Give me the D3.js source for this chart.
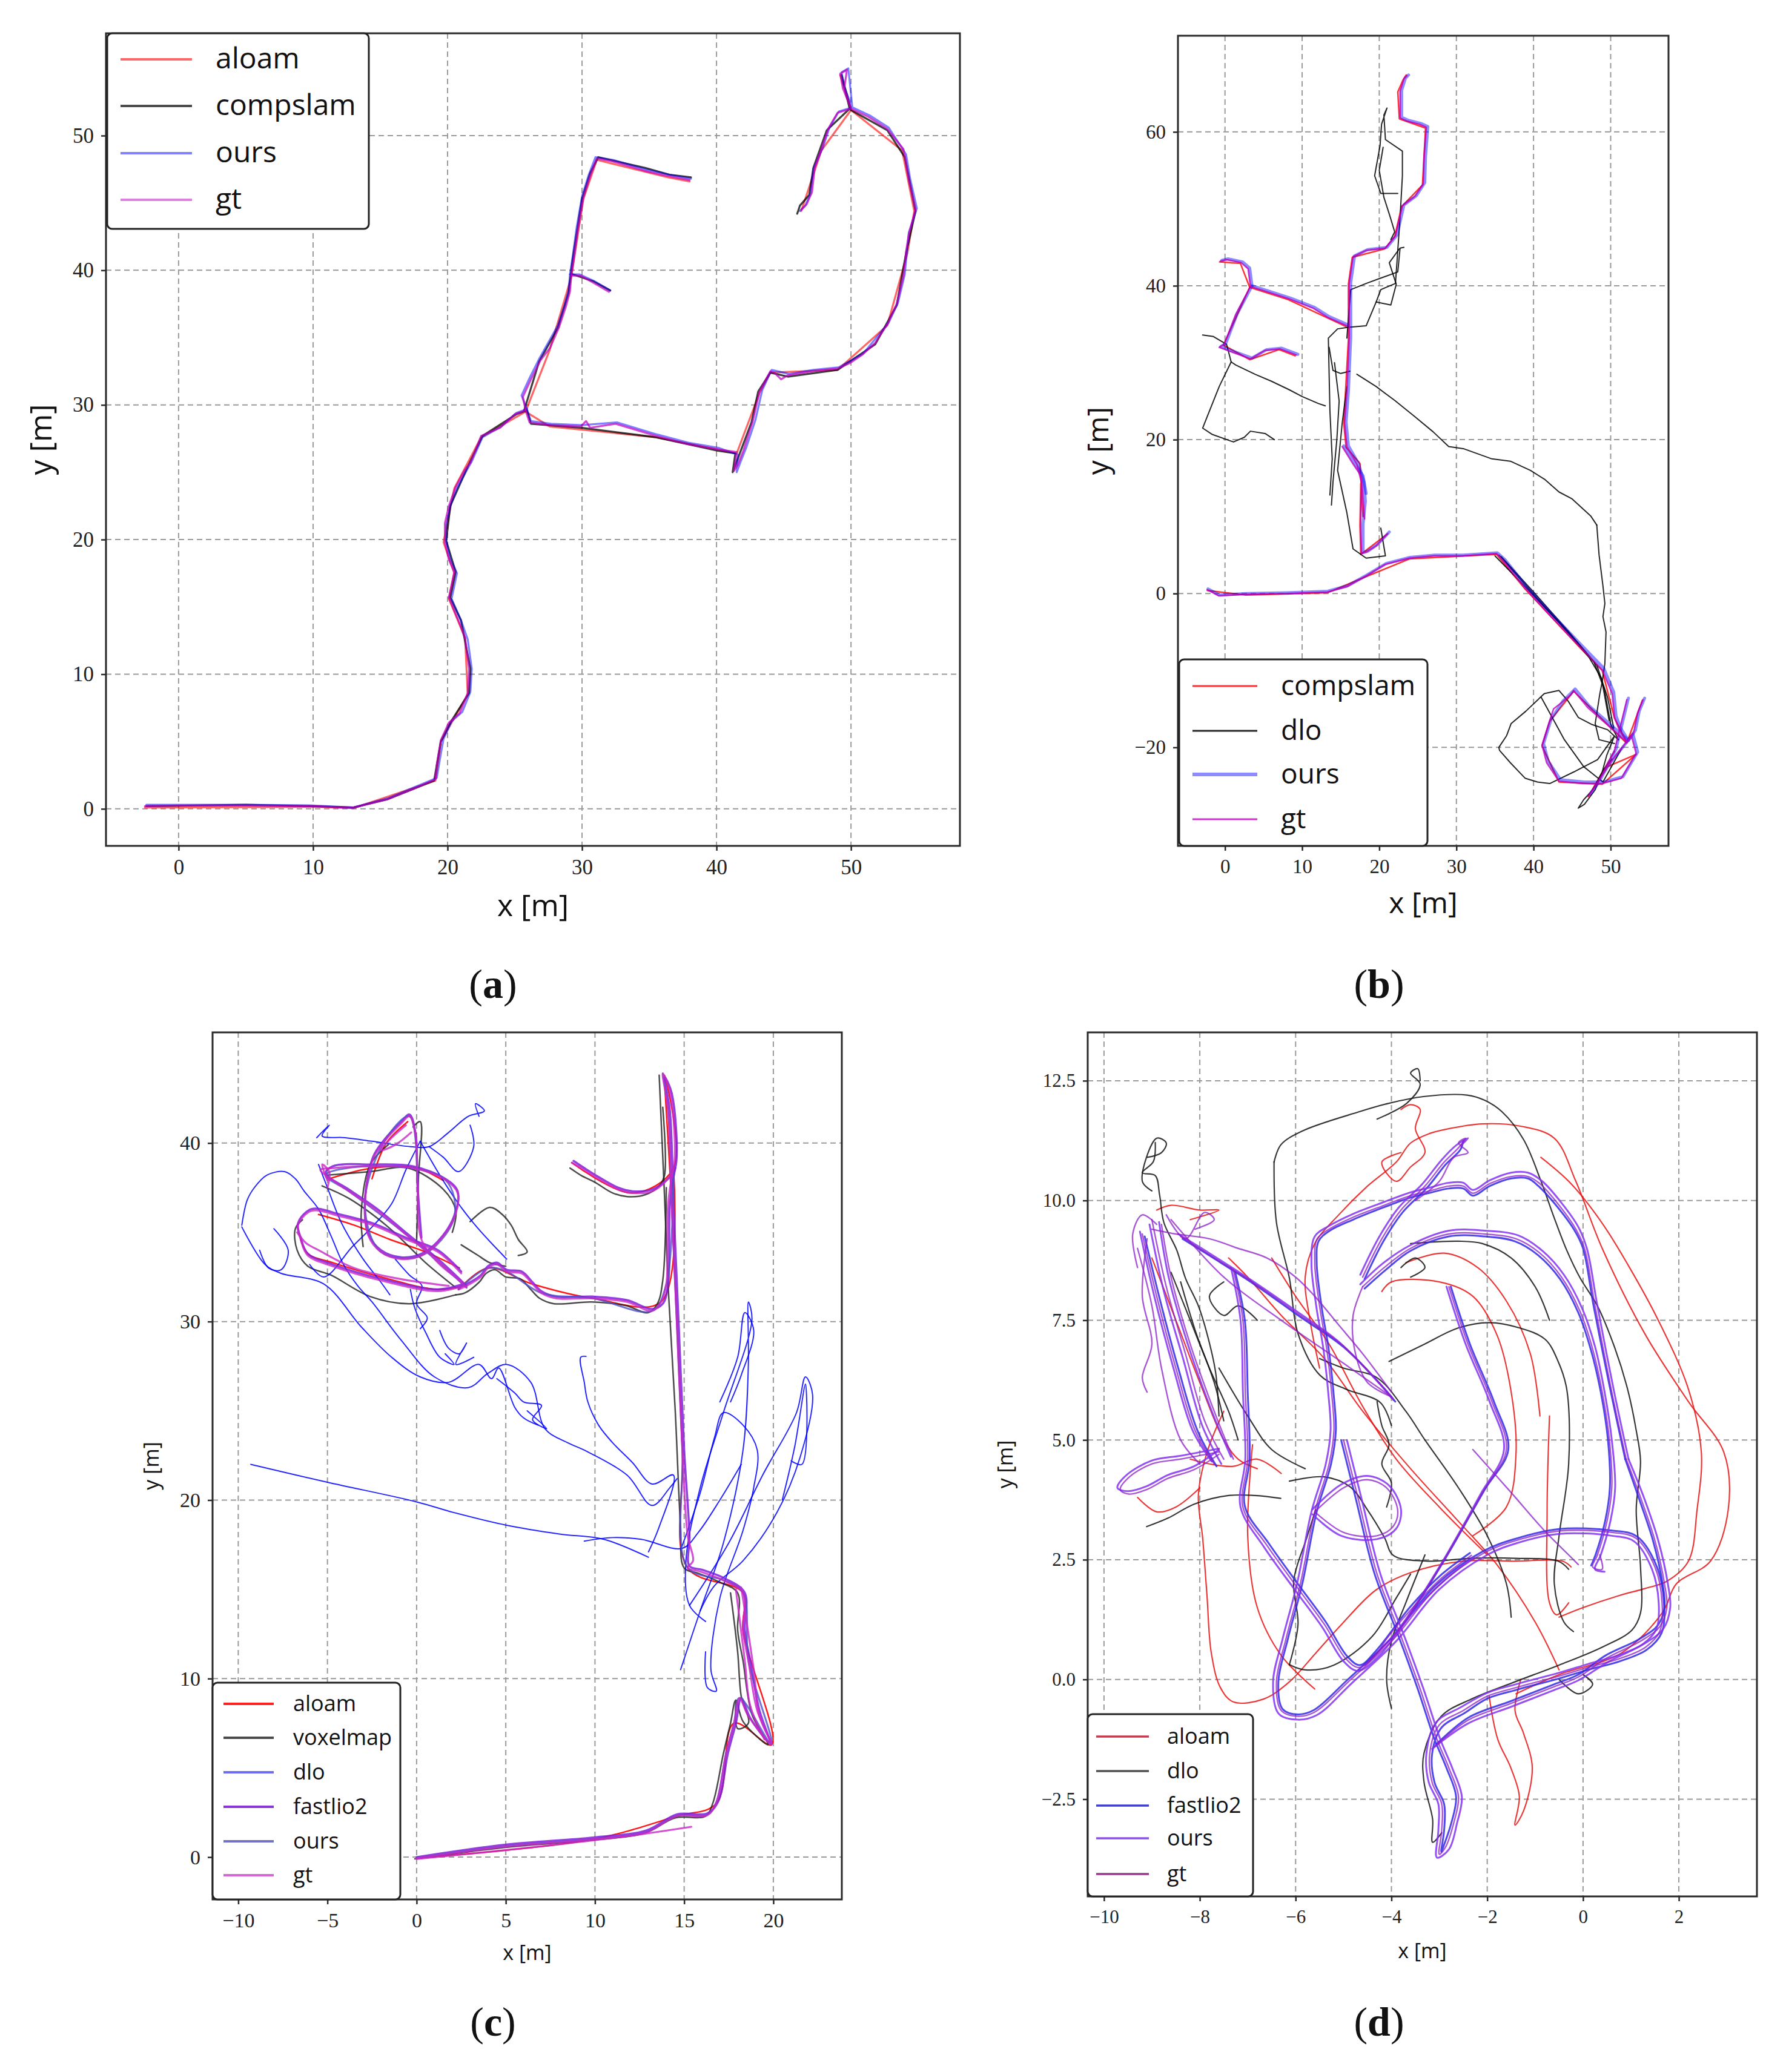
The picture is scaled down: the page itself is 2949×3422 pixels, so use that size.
<!DOCTYPE html>
<html>
<head>
<meta charset="utf-8">
<script src="https://cdn.jsdelivr.net/npm/d3@7"></script>
<style>
  body { margin: 0; background: #fff; }
</style>
</head>
<body>
<svg id="fig" width="2949" height="3422"></svg>
<script>
// ---------- panel (a) ----------
var aXTicks = [0, 10, 20, 30, 40, 50];
var aYTicks = [0, 10, 20, 30, 40, 50];
var aNames = ["aloam", "compslam", "ours", "gt"];

var aGt = [
  [[-2.5,0.2],[0,0.25],[5,0.25],[9.9,0.2],[12.9,0.08],[15.5,0.7],[17.5,1.5],[19.1,2.2],[19.2,3.3],[19.5,5.1],[20.1,6.4],[20.9,7.1],[21.5,8.6],[21.6,10.4],[21.3,12.7],[20.8,14.0],[20.1,15.7],[20.5,17.6],[20.1,18.5],[19.8,19.8],[19.8,21.2],[20.1,22.5],[20.6,23.9],[21.3,25.2],[21.7,25.7],[22.5,27.7],[23.9,28.3],[25.0,29.3],[25.8,29.6],
   [26.1,28.7],[27.6,28.5],[29.9,28.4],[30.3,28.8],[30.6,28.3],[32.5,28.6],[35.5,27.7],[37.8,27.1],[40.1,26.7],[41.5,26.5],[41.3,25.1],[41.6,25.6],[42.0,26.6],[42.7,28.8],[43.2,31.0],[44.0,32.5],[44.3,32.4],[44.8,31.9],[45.3,32.2],[47.1,32.5],[49.0,32.7],[49.9,33.1],[50.8,33.7],[51.8,34.6],[52.7,36.0],[53.4,37.5],[53.9,39.6],[54.1,41.4],[54.3,42.7],[54.8,44.5],[54.3,46.7],[54.0,48.5],[53.9,49.0],[52.7,50.5],[51.3,51.4],[50.0,52.0],[49.4,53.5],[49.2,54.6],[49.7,54.9],[49.5,53.5],[50.0,52.0],[49.0,51.7],[48.3,50.5],[47.8,49.0],[47.3,47.6],[47.1,45.8],[46.7,44.9],[46.3,44.5]],
  [[25.8,29.6],[25.6,30.6],[26.2,31.9],[26.9,33.3],[27.6,34.2],[28.3,35.8],[28.8,37.3],[29.1,38.4],[29.2,39.6],[29.4,40.9],[29.7,43.1],[30.1,45.4],[30.6,47.0],[31.1,48.3],[32.2,48.1],[34.6,47.4],[36.4,47.0],[38.0,46.7]],
  [[29.2,39.6],[29.9,39.6],[30.8,39.1],[32.0,38.4]]
];
var aOurs = [
  [[-2.4,0.3],[0,0.3],[5,0.3],[10,0.25],[13,0.1],[15.6,0.8],[19.2,2.3],[19.4,3.5],[19.7,5.2],[20.3,6.5],[21.1,7.2],[21.7,8.7],[21.8,10.4],[21.5,12.6],[21.0,14.0],[20.3,15.6],[20.7,17.5],[20.2,18.6],[19.9,19.9],[19.9,21.1],[20.2,22.5],[20.7,23.8],[21.4,25.1],[21.8,25.8],[22.6,27.6],[24.0,28.4],[25.1,29.4],[25.9,29.7],
   [26.2,28.8],[27.7,28.6],[30.0,28.5],[32.6,28.7],[35.6,27.8],[37.9,27.2],[40.2,26.8],[41.6,26.3],[41.5,25.0],[41.8,25.8],[42.2,26.8],[42.9,28.9],[43.4,31.1],[44.1,32.6],[45.4,32.3],[47.2,32.6],[49.1,32.8],[50.9,33.8],[52.8,36.1],[53.5,37.6],[54.0,39.7],[54.3,42.8],[54.9,44.6],[54.4,46.8],[54.1,48.6],[52.8,50.6],[51.4,51.5],[50.1,52.1],[49.5,53.6],[49.3,54.7],[49.8,55.0],[50.1,52.1],[49.1,51.8],[48.4,50.6],[47.9,49.1],[47.2,47.5],[47.0,45.7],[46.6,44.8],[46.2,44.4]],
  [[25.9,29.7],[25.5,30.7],[26.1,32.0],[26.8,33.4],[28.2,35.9],[28.7,37.4],[29.0,38.5],[29.1,39.7],[29.3,41.0],[29.6,43.2],[30.0,45.5],[30.5,47.1],[31.0,48.4],[32.3,48.2],[34.7,47.5],[36.5,47.1],[38.1,46.8]],
  [[29.1,39.7],[29.8,39.7],[30.9,39.2],[32.1,38.5]]
];
var aCompslam = [
  [[-2.4,0.2],[5,0.3],[10,0.2],[13,0.1],[15.5,0.7],[19.0,2.1],[19.5,5.0],[20.2,6.4],[21.6,8.6],[21.7,10.4],[21.0,14.0],[20.2,15.7],[20.6,17.6],[19.9,19.9],[20.2,22.5],[21.4,25.2],[22.6,27.7],[25.1,29.3],[25.9,29.6],[26.2,28.6],[30.0,28.3],[35.5,27.6],[40.1,26.6],[41.4,26.4],[41.2,25.0],[42.6,28.7],[43.1,31.0],[44.0,32.4],[45.3,32.1],[49.0,32.6],[51.8,34.5],[53.4,37.4],[54.1,41.3],[54.8,44.4],[54.0,48.4],[52.7,50.4],[50.0,51.9],[49.3,54.5],[49.9,52.0],[48.2,50.4],[47.2,47.6],[46.9,45.6],[46.2,44.8],[46.0,44.2]],
  [[25.7,29.6],[26.8,33.2],[28.2,35.7],[29.0,38.3],[29.3,40.8],[30.0,45.3],[30.6,47.2],[31.2,48.4],[34.7,47.6],[36.5,47.1],[38.1,46.9]],
  [[29.3,39.7],[30.8,39.2],[32.1,38.5]]
];
var aAloam = [
  [[-2.5,0.1],[10,0.15],[13,0.05],[19.1,2.1],[19.5,5.0],[21.5,8.5],[21.3,12.7],[20.1,15.6],[20.5,17.5],[19.7,19.8],[20.5,23.8],[22.5,27.6],[25.8,29.5],[27.6,28.4],[35.5,27.6],[41.5,26.4],[43.2,30.9],[44.0,32.4],[49.0,32.6],[52.7,35.9],[54.2,41.3],[54.7,44.4],[53.8,48.9],[50.0,51.9],[49.2,54.5],[50.0,51.9],[47.8,48.9],[46.3,44.4]],
  [[25.8,29.5],[27.6,34.1],[29.2,39.5],[30.1,45.3],[31.1,48.2],[36.4,46.9],[38.0,46.6]]
];

// ---------- panel (b) ----------
var bXTicks = [0, 10, 20, 30, 40, 50];
var bYTicks = [-20, 0, 20, 40, 60];
var bNames = ["compslam", "dlo", "ours", "gt"];

var bGt = [
  [[-2.3,0.5],[-0.8,-0.3],[2.7,-0.1],[8,0],[13.3,0.2],[15.8,0.9],[18.3,2.3],[20.8,3.8],[23.9,4.6],[27.1,4.9],[30.8,4.9],[35.2,5.2],[36.1,4.2],[38.9,0.7],[42.1,-2.8],[45.8,-6.7],[48.9,-9.9],[50.2,-13.0],[50.5,-16.1],[51.1,-17.7],[52.1,-19.3],[53.0,-18.0],[53.5,-15.5],[54.2,-13.8]],
  [[52.1,-19.3],[49.5,-17.0],[47.0,-14.8],[45.2,-12.6],[44.8,-13.2],[43.6,-14.2],[42.6,-15.0],[42.1,-16.5],[41.1,-19.7],[41.7,-22.0],[43.3,-24.4],[46.4,-24.7],[48.9,-24.7],[51.4,-24.0],[53.3,-20.8],[52.7,-18.5],[49.6,-22.4],[47.7,-25.5],[47.1,-26.3],[48.3,-24.7],[50.5,-20.4],[52.1,-13.8]],
  [[21.1,7.8],[19.6,6.2],[18.3,5.4],[17.7,5.2],[17.6,8.9],[17.7,14.4],[17.1,16.8],[15.8,19.1],[15.5,22.2],[15.8,26.2],[16.1,33.2],[16.1,40.3],[16.6,43.8],[18.3,44.6],[20.8,44.9],[22.1,46.5],[23.0,50.4],[24.6,51.6],[25.7,53.2],[25.8,56.7],[26.1,60.6],[25.2,61.0],[23.6,61.4],[22.7,61.8],[22.7,65.3],[23.2,66.9],[23.6,67.3]],
  [[15.8,34.8],[13.3,35.9],[11.4,37.1],[8.3,38.3],[5.8,39.1],[3.3,39.9],[3.0,42.2],[2.1,43.0],[0.2,43.4],[-0.6,43.2]],
  [[3.3,39.9],[1.4,36.3],[-0.1,32.4],[-0.75,32.0],[1.4,31.2],[3.3,30.5],[5.2,31.6],[7.1,31.8],[9.25,31.0]],
  [[15.2,19.1],[16.5,17.0],[17.7,15.2],[18.1,9.7]]
];
var bOurs = [
  [[-2.2,0.6],[-0.7,-0.2],[2.7,0.0],[8,0.1],[13.3,0.3],[15.9,1.0],[18.4,2.4],[20.9,3.9],[24.0,4.7],[27.2,5.0],[30.9,5.0],[35.3,5.3],[36.3,4.4],[39.1,0.9],[42.3,-2.6],[46.0,-6.5],[49.1,-9.7],[50.4,-12.8],[50.7,-15.9],[51.3,-17.5],[52.3,-19.1],[53.2,-17.8],[53.7,-15.3],[54.4,-13.6]],
  [[52.3,-19.1],[49.7,-16.8],[47.2,-14.6],[45.4,-12.4],[43.8,-14.0],[42.3,-16.3],[41.3,-19.5],[41.9,-21.8],[43.5,-24.2],[46.6,-24.5],[49.1,-24.5],[51.6,-23.8],[53.5,-20.6],[52.9,-18.3],[49.8,-22.2],[47.9,-25.3],[47.3,-26.1],[48.5,-24.5],[50.7,-20.2],[52.3,-13.6]],
  [[21.3,8.0],[19.8,6.4],[18.5,5.5],[17.9,5.3],[17.9,9.0],[18.2,12.0],[18.0,14.5],[17.3,16.9],[16.0,19.2],[15.7,22.3],[16.0,26.3],[16.3,33.3],[16.3,40.4],[16.8,43.9],[18.5,44.7],[21.0,45.0],[22.3,46.6],[23.2,50.5],[24.8,51.7],[25.9,53.4],[26.0,56.8],[26.3,60.7],[25.4,61.1],[23.8,61.5],[22.9,61.9],[22.9,65.4],[23.4,67.0],[23.8,67.4]],
  [[16.0,34.9],[13.5,36.0],[11.6,37.2],[8.5,38.4],[6.0,39.2],[3.5,40.0],[3.2,42.3],[2.3,43.1],[0.4,43.5],[-0.4,43.3]],
  [[3.5,40.0],[1.6,36.4],[0.1,32.5],[-0.55,32.1],[1.6,31.3],[3.5,30.6],[5.4,31.7],[7.3,31.9],[9.45,31.1]],
  [[15.4,19.2],[16.7,17.1],[17.9,15.3],[18.3,13.0]]
];
var bCompslam = [
  [[-2.3,0.4],[2.7,-0.2],[13.3,0.1],[18.3,2.2],[23.9,4.5],[35.2,5.1],[38.9,0.6],[45.8,-6.8],[48.9,-10.0],[50.5,-16.2],[52.1,-19.4],[54.1,-13.9]],
  [[52.0,-19.4],[45.2,-12.7],[42.1,-16.6],[41.1,-19.8],[43.3,-24.5],[48.9,-24.8],[53.3,-20.9],[49.6,-22.5],[47.1,-26.4],[50.5,-20.5]],
  [[21.0,7.7],[17.6,5.1],[17.5,8.8],[17.6,14.3],[17.9,10.0],[17.5,16.9],[15.7,19.0],[15.4,22.1],[16.0,33.1],[16.0,40.2],[16.5,43.7],[20.7,44.8],[22.0,46.4],[22.9,50.3],[25.6,53.1],[26.0,60.5],[22.6,61.7],[22.4,65.2],[23.1,66.8],[23.5,67.4]],
  [[15.7,34.7],[8.2,38.2],[3.2,39.8],[2.0,42.9],[-0.7,43.1]],
  [[3.2,39.8],[-0.2,32.3],[3.2,30.4],[7.0,31.7],[9.1,30.9]]
];
var bDlo = [
  [[35.5,5.0],[39.5,0.5],[44.0,-4.5],[47.8,-8.8],[49.2,-12.5],[50.0,-17.0],[51.0,-19.0]],
  [[35.0,4.9],[39.0,0.8],[43.5,-4.0],[47.2,-8.3],[48.8,-11.0],[49.8,-16.5]],
  [[35.8,4.8],[40.0,0.2],[44.5,-4.9],[48.2,-9.3],[49.6,-13.5],[50.4,-17.5]],
  [[48.2,8.9],[48.5,5.0],[49.0,1.0],[49.25,-1.3],[49.0,-3.0],[49.4,-5.0],[49.25,-9.1],[48.9,-11.5],[48.6,-13.0],[48.0,-16.9],[48.5,-19.0],[50.5,-19.5]],
  [[17.1,28.5],[19.6,26.9],[22.0,25.1],[24.6,23.0],[27.0,21.0],[29.0,19.1],[31.0,18.8],[34.6,17.5],[37.0,17.2],[39.6,16.0],[41.5,14.8],[43.3,13.2],[45.0,12.3],[47.4,10.1],[48.2,8.9]],
  [[51.0,-19.0],[49.6,-17.7],[47.5,-17.0],[45.8,-16.1],[44.5,-14.0],[43.3,-12.6],[41.4,-13.0],[39.0,-15.3],[37.1,-16.9],[36.5,-18.5],[35.5,-20.0],[35.6,-20.4],[37.0,-22.0],[38.9,-24.0],[40.5,-24.5],[42.1,-24.7],[45.2,-23.2],[48.3,-21.6],[50.5,-18.5],[49.5,-21.0],[48.9,-23.2],[47.7,-25.5],[46.5,-26.8],[45.8,-27.9],[46.6,-27.4],[48.0,-25.5],[49.0,-23.0],[50.2,-21.5]],
  [[-2.9,33.6],[-1.5,33.4],[0.2,32.4],[0.8,30.1],[1.4,29.7],[3.9,28.5],[6.0,27.6],[8.3,26.5],[10.0,25.6],[12.1,24.7],[13.0,24.4]],
  [[0.8,30.1],[-0.75,26.9],[-2.3,23.0],[-2.9,21.5],[-1.7,20.7],[1.1,19.7],[2.5,20.3],[3.3,21.1],[5.2,20.8],[6.4,20.0]],
  [[13.6,12.8],[13.9,17.5],[13.6,23.8],[13.4,33.2],[14.6,34.4],[16.0,34.6],[18.3,34.8],[19.6,37.9],[20.2,39.5],[22.1,40.3],[22.4,44.6],[22.7,48.9],[23.0,54.3],[23.0,57.5],[20.8,59.0],[20.6,62.2],[21.0,63.1],[20.3,61.0],[20.1,58.2],[19.4,54.3],[20.2,52.0],[22.4,52.0]],
  [[15.8,26.9],[15.2,22.2],[14.6,16.0],[15.8,10.5],[16.6,5.8],[18.3,4.6],[20.8,4.9],[20.2,8.5]],
  [[15.8,33.2],[16.3,39.5],[18.3,40.3],[20.2,41.0],[22.4,41.8],[22.7,44.9],[23.2,45.0]],
  [[14.2,30.0],[14.8,25.0],[14.5,20.0],[14.0,14.5],[13.8,11.5]],
  [[13.5,32.0],[14.0,29.0],[15.0,28.6],[16.2,28.9]],
  [[19.6,37.9],[21.5,37.5],[22.2,40.2],[21.3,43.0],[22.6,44.8]],
  [[20.5,58.0],[20.0,55.0],[20.6,51.5],[21.4,49.0],[22.0,47.0],[21.5,46.0]],
  [[41.0,-13.5],[44.0,-19.0],[46.5,-22.5],[49.0,-24.5],[51.5,-20.0]]
];

// ---------- panel (c) ----------
var cXTicks = [-10, -5, 0, 5, 10, 15, 20];
var cYTicks = [0, 10, 20, 30, 40];
var cNames = ["aloam", "voxelmap", "dlo", "fastlio2", "ours", "gt"];

var cGt = [
  [[0,-0.07],[5.05,0.6],[9.9,1.0],[12.9,1.4],[14.6,2.3],[16.3,2.35],[16.8,3.05],[17.35,5.8],[17.8,7.5],[18.1,8.9],[18.6,7.9],[19.9,6.3],[19.1,8.2],[18.6,11.0],[18.3,12.7],[18.3,14.8],[17.2,15.5],[15.9,16.0],[15.2,16.2],[15.5,16.6],[15.2,18.0],[14.9,22.8],[14.6,29.7],[14.3,36.6],[14.1,41.8],[13.8,43.9],[14.2,42.9],[14.4,38.6],[14.0,37.9],[13.2,37.3],[12.1,37.2],[11.3,37.4],[10.2,38.0],[9.4,38.5],[8.7,38.9]],
  [[0,-0.1],[6,0.5],[12,1.2],[15.4,1.7]],
  [[17.9,15.0],[18.4,11.0],[18.7,8.5],[19.5,6.6]],
  [[18.2,15.1],[18.9,10.5],[19.2,8.0],[19.9,6.4]],
  [[14.4,38.6],[14.1,36.6],[14.0,32.1],[13.7,31.1],[13.2,30.6],[11.8,31.1],[9.9,31.3],[7.8,31.3],[7.0,31.6],[6.5,32.1],[5.9,32.7],[5.05,32.8],[4.5,33.2],[4.0,33.0],[3.6,32.5],[2.8,32.0],[2.35,31.8]],
  [[2.8,31.9],[1.2,33.4],[-0.5,34.8],[-2.2,36.2],[-3.8,37.3],[-5.1,38.2],[-5.4,38.5],[-4.7,38.6],[-2.45,38.7],[-0.2,38.6],[1.6,37.95],[2.3,37.2],[2.1,35.8],[1.2,34.45],[0.27,33.7],[-0.86,33.5],[-2.0,33.9],[-2.7,34.8],[-2.9,36.6],[-2.45,39.1],[-1.8,40.1],[-0.86,41.1],[-0.4,41.5],[-0.07,40.5],[0.05,37.6],[0.27,34.6],[1.2,33.3],[2.6,32.2]],
  [[2.6,32.0],[1.2,31.7],[-2.0,32.3],[-4.7,33.1],[-6.1,33.7],[-6.5,34.6],[-6.65,35.4],[-5.9,36.2],[-4.3,35.9],[-2.45,35.4],[-0.6,34.6],[1.2,33.9],[2.5,32.7]],
  [[-5.0,37.5],[-4.9,38.4],[-5.3,38.8],[-5.0,37.9]],
  [[-0.6,41.0],[-1.5,40.2],[-2.0,39.6],[-1.2,39.9],[-0.3,40.6]],
  [[-6.7,35.0],[-6.2,34.4],[-5.5,34.0],[-3.5,33.0],[-1.0,32.4],[1.8,32.0]]
];
var cFastlio2 = [
  [[0,0.0],[5.0,0.7],[9.9,1.1],[12.9,1.5],[14.6,2.4],[16.3,2.45],[16.9,3.1],[17.45,5.8],[17.9,7.5],[18.2,8.9],[18.7,7.8],[19.8,6.4],[19.2,8.3],[18.7,11.0],[18.4,12.7],[18.4,14.8],[17.3,15.6],[16.0,16.1],[15.3,16.3],[15.3,18.0],[15.0,22.8],[14.7,29.7],[14.4,36.6],[14.2,41.8],[13.9,43.7],[14.3,42.8],[14.5,38.6],[14.1,38.0],[13.2,37.4],[12.1,37.3],[11.3,37.5],[10.2,38.1],[9.4,38.6],[8.8,39.0]],
  [[14.5,38.6],[14.2,36.6],[14.1,32.1],[13.8,31.0],[13.2,30.7],[11.8,31.2],[9.9,31.4],[7.8,31.4],[7.0,31.7],[6.5,32.2],[5.9,32.8],[5.05,32.9],[4.5,33.3],[4.0,33.1],[3.6,32.6],[2.8,32.1],[2.3,31.9]],
  [[2.8,32.0],[1.2,33.5],[-0.5,34.9],[-2.2,36.3],[-3.8,37.4],[-5.1,38.3],[-4.7,38.7],[-2.45,38.8],[-0.2,38.7],[1.6,38.0],[2.3,37.3],[2.1,35.9],[1.2,34.5],[0.27,33.8],[-0.86,33.6],[-2.0,34.0],[-2.7,34.9],[-2.9,36.7],[-2.45,39.2],[-1.8,40.2],[-0.86,41.2],[-0.4,41.6],[-0.07,40.6],[0.05,37.7],[0.27,34.7]],
  [[2.6,32.1],[1.2,31.8],[-2.0,32.4],[-4.7,33.2],[-6.1,33.8],[-6.5,34.7],[-6.65,35.5],[-5.9,36.3],[-4.3,36.0],[-2.45,35.5],[-0.6,34.7],[1.2,34.0],[2.5,32.8]]
];
var cOurs = [
  [[0,-0.05],[5.05,0.62],[9.9,1.02],[12.9,1.42],[14.6,2.32],[16.3,2.37],[16.8,3.07],[17.35,5.82],[17.8,7.52],[18.1,8.92],[19.9,6.32],[18.6,11.02],[18.3,14.82],[17.2,15.52],[15.2,16.22],[14.9,22.82],[14.6,29.72],[14.3,36.62],[14.1,41.82],[13.8,43.9]],
  [[14.4,38.6],[14.0,32.1],[13.2,30.6],[9.9,31.3],[7.0,31.6],[5.05,32.8],[4.0,33.0],[2.35,31.8]],
  [[2.8,31.9],[-0.5,34.8],[-3.8,37.3],[-5.1,38.2],[-2.45,38.7],[1.6,37.95],[2.1,35.8],[0.27,33.7],[-2.0,33.9],[-2.9,36.6],[-1.8,40.1],[-0.4,41.5],[0.05,37.6]]
];
var cVoxelmap = [
  [[-0.1,-0.1],[5,0.55],[9.8,0.95],[12.8,1.35],[14.5,2.2],[16.2,2.3],[16.6,3.0],[17.2,5.8],[17.6,7.5],[17.9,8.8],[18.3,7.6],[19.7,6.3],[18.8,8.0],[18.3,11.0],[18.0,12.7],[18.0,14.8],[17.0,15.4],[15.8,15.9],[15.0,16.2],[14.8,18.5],[14.5,25],[14.1,32],[13.9,37],[13.7,41.5],[13.6,43.8]],
  [[17.6,14.8],[18.0,11.5],[18.2,9.0],[18.6,7.5],[18.0,7.2],[17.9,8.7]],
  [[13.8,42.0],[13.9,38.2],[13.6,37.6],[12.8,37.1],[11.8,37.0],[11.0,37.2],[10.0,37.8],[9.2,38.2],[8.6,38.6]],
  [[14.0,37.5],[13.8,32.3],[13.5,31.0],[13.0,30.5],[11.7,30.9],[9.8,31.1],[7.7,31.0],[6.9,31.3],[6.4,31.8],[5.8,32.4],[5.0,32.5],[4.4,32.9],[3.9,32.7],[3.5,32.2],[2.7,31.6],[2.2,31.5]],
  [[2.5,34.3],[3.45,33.7],[4.1,33.3],[5.0,33.1]],
  [[3.0,35.6],[4.1,36.4],[4.8,36.0],[5.3,35.4],[5.7,34.6],[6.2,33.9],[5.7,33.7]],
  [[2.2,31.5],[-0.4,31.0],[-2.6,31.4],[-4.8,32.6],[-6.1,33.1],[-6.7,34.0],[-6.8,35.2],[-6.4,35.7]],
  [[2.2,31.9],[0.5,33.3],[-1.6,35.3],[-3.8,36.9],[-5.3,37.6]],
  [[-5.0,38.2],[-2.6,38.4],[-0.5,38.6],[1.5,37.4],[2.2,36.2],[2.0,35.0]],
  [[0.0,34.5],[0.1,38.0],[0.2,41.2],[-0.2,40.9]],
  [[-3.0,34.2],[-3.1,36.2],[-2.6,38.8],[-1.6,39.9]]
];
var cAloam = [
  [[0,-0.05],[9.9,1.0],[14.6,2.3],[16.8,3.0],[17.8,7.5],[19.9,6.3],[18.3,12.7],[18.3,14.8],[15.2,16.2],[14.9,22.8],[14.3,36.6],[13.9,43.8],[14.4,38.6],[12.1,37.2],[8.7,38.9]],
  [[14.4,38.6],[13.7,31.1],[9.9,31.3],[6.5,32.1],[4.0,33.0],[2.35,31.8]],
  [[2.6,32.0],[1.2,31.8],[-2.0,32.5],[-4.7,33.3],[-6.1,33.8],[-6.5,34.6]],
  [[2.4,33.0],[0.5,33.9],[-1.5,34.6],[-3.5,35.4],[-5.5,36.0]],
  [[-4.9,38.0],[-2.45,38.6],[0.0,38.6],[1.5,37.9]],
  [[-0.5,41.2],[-1.7,40.0],[-2.5,38.0]]
];
var cDlo = [
  [[-9.3,22.0],[-5,21.0],[0,19.9],[2.1,19.3],[5,18.6],[8,18.1],[10.5,17.8],[13.0,16.8]],
  [[9.4,17.7],[11,17.9],[12.6,17.8],[14.9,17.3],[15.8,18.2],[17.0,20.0],[18.2,22.0]],
  [[13.0,17.1],[13.6,18.5],[14.4,21.4],[13.2,20.9],[12.1,22.1],[11.0,23.2],[10.2,24.2],[9.6,25.5],[9.4,26.6],[9.2,28.0],[9.5,28.05]],
  [[-9.8,35.4],[-9.5,36.8],[-9.1,37.5],[-8.4,38.2],[-7.4,38.4],[-6.8,38.0],[-6.3,37.3],[-5.5,36.3],[-4.8,34.8],[-4.1,33.2],[-3.3,32.0],[-2.5,31.1],[-0.9,29.0],[1.0,26.9],[2.9,26.3],[4.0,27.1],[5.05,27.6],[6.4,26.6],[7.2,24.0],[8.5,23.2],[9.4,22.8],[11.8,21.4],[13.2,19.7],[14.2,20.7],[14.6,21.2]],
  [[-9.8,35.3],[-8.5,33.2],[-7.6,32.7],[-5.2,32.1],[-3.1,29.7],[-1.4,28.0],[0.2,26.9],[1.8,26.6],[3.5,27.6],[4.2,26.8],[4.6,27.4],[5.5,25.2],[6.0,24.6],[6.8,24.2]],
  [[-5.6,40.3],[-4.9,41.0],[-5.3,40.4],[-4.0,40.3],[-2.5,40.1],[-0.35,39.8],[0.7,39.8],[1.8,40.6],[2.9,41.5],[3.8,41.8],[3.3,42.2],[3.5,41.5]],
  [[0.7,39.8],[1.5,39.2],[2.35,38.4],[3.2,39.8],[3.0,41.0]],
  [[-0.35,31.8],[-0.1,30.75],[0.5,29.4],[1.3,28.0],[2.1,27.6],[1.6,28.2]],
  [[0.2,40.1],[-0.6,38.5],[-1.4,36.6],[-2.5,35.3],[-3.6,34.2],[-5.2,32.5],[-6.0,33.2]],
  [[0.2,40.1],[1.3,38.2],[2.35,36.6],[3.2,35.5],[4.0,34.6],[5.05,33.5]],
  [[-5.5,38.8],[-5.0,37.5],[-4.2,35.5],[-3.0,33.5],[-2.0,32.2],[-1.5,31.5]],
  [[14.8,10.5],[15.9,13.8],[17.2,17.6],[18.3,22.8],[18.6,27.6],[18.6,31.1],[18.8,30.1],[17.2,24.9],[15.9,20.7],[15.1,16.6],[15.3,14.1],[16.2,13.2]],
  [[15.3,14.1],[17.5,17.6],[19.4,21.4],[21.3,24.9],[21.8,26.9],[22.2,25.9],[21.5,22.4],[20.2,19.3],[18.3,16.6],[16.7,15.2],[15.9,13.8]],
  [[14.8,17.2],[15.9,20.4],[16.7,23.5],[17.2,24.9],[18.3,24.2],[19.1,22.8],[18.9,20.7],[18.3,18.3],[17.0,14.5],[16.5,10.5],[16.8,9.3],[16.3,9.5],[16.2,11.5]],
  [[17.0,25.5],[18.0,28.0],[18.4,30.5],[18.9,29.5],[18.2,27.0],[17.6,25.5]],
  [[20.5,20.0],[21.2,23.0],[21.8,26.5],[21.6,22.0],[21.0,22.2]],
  [[1.3,29.5],[1.8,28.5],[2.4,28.2],[2.8,28.8],[2.2,27.6],[3.2,28.0]],
  [[4.5,26.8],[5.5,26.0],[6.0,25.5],[7.0,25.3],[6.5,24.5],[7.3,24.0],[6.2,25.0]],
  [[-1.2,33.5],[-0.4,32.6],[0.3,32.0],[0.0,31.0],[0.6,30.2],[0.2,29.6]],
  [[-8.8,34.0],[-8.3,33.0],[-7.6,32.9],[-7.2,34.0],[-8.0,35.2]]
];

// ---------- panel (d) ----------
var dXTicks = [-10, -8, -6, -4, -2, 0, 2];
var dYTicks = [-2.5, 0, 2.5, 5, 7.5, 10, 12.5];
var dNames = ["aloam", "dlo", "fastlio2", "ours", "gt"];

var dGt = [
  [[0.9,4.6],[0.6,6.0],[0.25,7.8],[0.03,9.0],[-0.15,9.4],[-0.5,9.9],[-0.9,10.35],[-1.15,10.5],[-1.5,10.5],[-1.95,10.35],[-2.3,10.15],[-2.5,10.3],[-2.8,10.3],[-3.2,10.2],[-3.6,10.1],[-4.15,9.9],[-4.8,9.65],[-5.3,9.4],[-5.55,9.2],[-5.6,8.7],[-5.5,7.8],[-5.35,6.9],[-5.25,6.0],[-5.2,5.2],[-5.3,4.5],[-5.6,3.5],[-5.9,2.0],[-6.2,0.85],[-6.4,-0.05],[-6.3,-0.65],[-5.95,-0.77],[-5.6,-0.68],[-4.9,-0.05],[-3.95,0.85],[-3.05,1.93],[-2.05,2.65],[-1.4,2.9],[-0.5,3.1],[0.6,3.07],[1.1,2.95],[1.5,2.35],[1.65,1.6],[1.6,1.0],[1.3,0.67],[0.75,0.43],[0.1,0.25],[-0.5,0.07],[-1.4,-0.17],[-2.0,-0.35],[-2.5,-0.65],[-3.0,-0.95],[-3.2,-1.55],[-3.15,-2.15],[-2.95,-2.6],[-2.95,-3.15],[-3.0,-3.65],[-2.87,-3.5],[-2.7,-3.0],[-2.6,-2.45],[-2.8,-1.85],[-3.05,-1.25],[-3.4,-0.2],[-3.8,0.9],[-4.3,2.2],[-4.7,3.8],[-5.0,5.0]],
  [[0.9,4.6],[1.2,3.8],[1.5,2.9],[1.7,2.0],[1.75,1.5],[1.6,1.1],[1.2,0.8],[0.5,0.45],[-0.1,0.05],[-0.6,-0.15],[-1.5,-0.5],[-2.4,-0.85],[-3.1,-1.4]],
  [[-4.6,8.2],[-4.15,8.6],[-3.6,9.0],[-2.8,9.3],[-2.05,9.3],[-1.4,9.2],[-0.9,8.9],[-0.45,8.4],[-0.07,7.7],[0.2,6.9],[0.4,6.0],[0.55,5.0],[0.6,4.0],[0.5,3.3],[0.3,2.6],[0.2,2.35],[0.4,2.3],[0.35,2.6]],
  [[-4.6,8.2],[-4.8,7.6],[-4.75,6.8],[-4.5,6.2],[-4.0,5.9]],
  [[-8.4,9.25],[-7.76,8.84],[-6.85,8.26],[-5.95,7.63],[-5.04,6.99],[-4.14,6.06],[-3.96,5.83]],
  [[-8.6,9.6],[-7.5,8.4],[-6.3,7.5],[-5.0,6.6],[-4.0,5.9]],
  [[-7.3,8.55],[-7.1,7.5],[-7.05,6.0],[-7.0,4.6],[-7.1,3.6],[-6.6,2.8],[-5.95,1.9],[-5.4,1.15],[-4.95,0.43],[-4.68,0.25],[-4.3,0.55],[-4.1,0.85],[-3.6,1.45],[-2.96,2.11],[-2.33,2.59]],
  [[-7.6,4.7],[-8.12,4.38],[-8.66,4.2],[-9.12,3.96],[-9.48,3.87],[-9.66,3.96],[-9.5,4.2],[-9.0,4.5],[-8.4,4.6],[-7.6,4.75]],
  [[-9.2,9.3],[-8.9,8.0],[-8.5,6.5],[-8.1,5.2],[-7.7,4.5]],
  [[-9.0,9.6],[-8.7,8.2],[-8.3,6.8],[-7.9,5.4],[-7.5,4.6]],
  [[-9.3,9.0],[-9.0,7.8],[-8.8,6.5],[-8.4,5.0],[-8.0,4.5]],
  [[-8.8,9.5],[-8.6,8.4],[-8.2,7.0],[-7.7,5.6],[-7.3,4.6]],
  [[-9.1,9.2],[-9.2,8.0],[-9.0,7.0],[-9.2,6.3],[-9.1,6.0]],
  [[-8.7,9.7],[-8.3,9.2],[-7.9,9.75],[-7.7,9.6],[-8.1,9.4]],
  [[-9.0,9.4],[-8.5,9.3],[-7.8,9.2],[-7.2,9.0],[-6.6,8.8],[-6.0,8.4],[-5.6,8.0],[-5.1,7.4],[-4.6,6.8],[-4.0,6.0]],
  [[-9.3,8.6],[-9.4,9.3],[-9.2,9.7],[-8.9,9.5]],
  [[-4.6,8.4],[-4.2,9.2],[-3.8,9.8],[-3.3,10.3],[-2.9,10.8],[-2.6,11.1],[-2.45,11.3],[-2.6,11.2],[-2.4,11.0],[-2.7,10.9],[-3.0,10.4],[-3.5,10.0]],
  [[-5.6,3.5],[-5.0,4.0],[-4.5,4.17],[-4.1,4.0],[-3.87,3.54],[-3.96,3.2],[-4.3,3.0],[-5.0,3.07],[-5.6,3.5]],
  [[-2.3,4.8],[-1.5,3.9],[-0.8,3.1],[-0.3,2.6],[-0.1,2.4]],
  [[-2.8,8.2],[-2.4,7.0],[-1.9,5.8],[-1.6,4.8],[-2.1,3.9],[-2.96,2.4],[-3.8,1.1],[-4.5,0.35]]
];
var dOurs = [
  [[0.95,4.6],[0.65,6.0],[0.3,7.8],[0.08,9.0],[-0.1,9.45],[-0.45,9.95],[-0.85,10.4],[-1.15,10.58],[-1.5,10.58],[-1.95,10.42],[-2.3,10.22],[-2.5,10.37],[-2.8,10.37],[-3.2,10.27],[-3.6,10.17],[-4.15,9.97],[-4.8,9.72],[-5.3,9.47],[-5.6,9.25],[-5.67,8.7],[-5.57,7.8],[-5.42,6.9],[-5.32,6.0],[-5.27,5.2],[-5.37,4.5],[-5.67,3.5],[-5.97,2.0],[-6.27,0.85],[-6.47,-0.05],[-6.35,-0.72],[-5.95,-0.84],[-5.55,-0.74],[-4.85,-0.1],[-3.9,0.8],[-3.0,1.88],[-2.0,2.6],[-1.4,2.84],[-0.5,3.04],[0.6,3.0],[1.07,2.88],[1.44,2.3],[1.58,1.6],[1.53,1.05],[1.25,0.74],[0.72,0.5],[0.1,0.32],[-0.5,0.14],[-1.4,-0.1],[-2.0,-0.28],[-2.55,-0.58],[-3.07,-0.9],[-3.27,-1.55],[-3.22,-2.15],[-3.02,-2.6],[-3.02,-3.15],[-3.05,-3.72],[-2.8,-3.55],[-2.63,-3.0],[-2.53,-2.45],[-2.73,-1.85],[-2.98,-1.25],[-3.33,-0.2],[-3.73,0.9],[-4.23,2.2],[-4.63,3.8],[-4.93,5.0]],
  [[0.95,4.6],[1.27,3.8],[1.57,2.9],[1.77,2.0],[1.82,1.5],[1.67,1.05],[1.25,0.73],[0.55,0.38],[-0.1,-0.02],[-0.6,-0.22],[-1.5,-0.57],[-2.4,-0.92],[-3.15,-1.45]],
  [[-4.65,8.25],[-4.2,8.67],[-3.6,9.07],[-2.8,9.37],[-2.05,9.37],[-1.35,9.27],[-0.85,8.95],[-0.4,8.45],[-0.02,7.75],[0.25,6.95],[0.45,6.0],[0.6,5.0],[0.67,4.0],[0.57,3.3],[0.37,2.6],[0.25,2.3],[0.45,2.25]],
  [[-8.45,9.3],[-7.8,8.9],[-6.9,8.32],[-6.0,7.7],[-5.1,7.05],[-4.2,6.12],[-4.0,5.88]],
  [[-7.35,8.6],[-7.15,7.5],[-7.1,6.0],[-7.05,4.6],[-7.15,3.6],[-6.65,2.75],[-6.0,1.85],[-5.45,1.1],[-5.0,0.38],[-4.7,0.18],[-4.25,0.5],[-3.55,1.4],[-2.9,2.06],[-2.3,2.54]],
  [[-7.6,4.8],[-8.12,4.45],[-8.66,4.27],[-9.12,4.03],[-9.5,3.93],[-9.72,4.0],[-9.55,4.25],[-9.0,4.57],[-8.4,4.67],[-7.6,4.82]],
  [[-9.25,9.35],[-8.95,8.0],[-8.55,6.5],[-8.15,5.2],[-7.75,4.55]],
  [[-8.85,9.55],[-8.65,8.4],[-8.25,7.0],[-7.75,5.6],[-7.35,4.65]],
  [[-9.05,9.5],[-8.75,8.1],[-8.35,6.7],[-7.95,5.3],[-7.55,4.5]],
  [[-4.65,8.45],[-4.25,9.25],[-3.85,9.85],[-3.35,10.35],[-2.95,10.85],[-2.65,11.15],[-2.4,11.3],[-2.55,11.15]],
  [[-5.65,3.55],[-5.05,4.07],[-4.5,4.25],[-4.05,4.05],[-3.8,3.55],[-3.9,3.15],[-4.3,2.93],[-5.05,3.0],[-5.65,3.45]],
  [[-2.85,8.2],[-2.45,7.0],[-1.95,5.8],[-1.65,4.8],[-2.15,3.85],[-3.0,2.35],[-3.85,1.05],[-4.55,0.3]]
];
var dFastlio2 = [
  [[0.88,4.6],[0.58,6.0],[0.22,7.8],[0.0,9.0],[-0.18,9.38],[-0.53,9.86],[-0.93,10.3],[-1.15,10.46],[-1.5,10.46],[-1.95,10.3],[-2.3,10.1],[-2.5,10.25],[-2.8,10.25],[-3.2,10.16],[-3.6,10.06],[-4.15,9.86],[-4.8,9.6],[-5.3,9.36],[-5.52,9.15],[-5.56,8.7],[-5.46,7.8],[-5.31,6.9],[-5.21,6.0],[-5.16,5.2],[-5.26,4.5],[-5.56,3.5],[-5.86,2.0],[-6.16,0.85],[-6.36,-0.05],[-6.27,-0.62],[-5.95,-0.73],[-5.62,-0.64],[-4.93,-0.02],[-3.98,0.88],[-3.08,1.96],[-2.08,2.68],[-1.4,2.94],[-0.5,3.14],[0.6,3.11],[1.12,2.99],[1.53,2.38],[1.69,1.6],[1.64,0.97],[1.33,0.62],[0.77,0.38],[0.1,0.2],[-0.5,0.02],[-1.4,-0.22],[-2.0,-0.4],[-2.47,-0.7],[-2.95,-1.0],[-3.15,-1.55],[-3.1,-2.15],[-2.9,-2.6],[-2.9,-3.15],[-2.96,-3.6],[-2.9,-3.45],[-2.75,-3.0],[-2.65,-2.45],[-2.85,-1.85],[-3.1,-1.25],[-3.45,-0.2],[-3.85,0.9],[-4.35,2.2],[-4.75,3.8],[-5.05,5.0]],
  [[0.88,4.6],[1.16,3.8],[1.46,2.9],[1.66,2.0],[1.7,1.5],[1.56,1.13],[1.17,0.84],[0.47,0.5],[-0.1,0.1],[-0.6,-0.1],[-1.5,-0.45],[-2.4,-0.8],[-3.07,-1.36]],
  [[-4.56,8.16],[-4.12,8.55],[-3.6,8.95],[-2.8,9.25],[-2.05,9.25],[-1.43,9.15],[-0.94,8.86],[-0.48,8.36],[-0.1,7.66],[0.17,6.86],[0.37,6.0],[0.52,5.0],[0.56,4.0],[0.46,3.3],[0.26,2.6],[0.17,2.38]],
  [[-8.36,9.2],[-7.72,8.8],[-6.82,8.22],[-5.92,7.58],[-5.0,6.94],[-4.1,6.02],[-3.92,5.8]],
  [[-7.26,8.5],[-7.06,7.5],[-7.0,6.0],[-6.96,4.6],[-7.06,3.62],[-6.56,2.84],[-5.92,1.95],[-5.37,1.2],[-4.92,0.48],[-4.66,0.3],[-4.32,0.6],[-3.62,1.5],[-3.0,2.15],[-2.36,2.64]],
  [[-9.15,9.25],[-8.85,8.0],[-8.45,6.5],[-8.05,5.2],[-7.65,4.45]],
  [[-4.56,8.36],[-4.16,9.16],[-3.76,9.76],[-3.26,10.26],[-2.86,10.76],[-2.56,11.06],[-2.5,11.25]],
  [[-2.76,8.2],[-2.36,7.0],[-1.86,5.8],[-1.56,4.8],[-2.06,3.95],[-2.92,2.45],[-3.76,1.15],[-4.46,0.4]]
];
var dAloam = [
  [[-1.4,-0.3],[-0.5,0.1],[0.8,0.55],[1.66,1.4],[1.95,2.0],[2.66,2.47],[3.03,3.54],[2.94,4.74],[2.2,5.8],[1.3,7.2],[0.4,9.0],[-0.15,10.4],[-0.6,11.3],[-1.3,11.55],[-2.1,11.6],[-2.8,11.5],[-3.2,11.4],[-3.6,11.2],[-3.9,10.8],[-4.5,10.3],[-5.1,9.7],[-5.6,9.1],[-5.8,8.4],[-5.7,7.5],[-5.5,6.5]],
  [[-0.88,10.9],[-0.25,10.35],[0.39,9.54],[0.93,8.67],[1.57,7.5],[2.2,6.06],[2.47,4.74],[2.38,3.54],[2.2,2.47],[1.75,2.05],[1.3,1.9],[0.75,1.75],[0.0,1.5],[-0.5,1.3]],
  [[-3.8,11.9],[-3.6,12.0],[-3.4,11.9],[-3.5,11.5],[-3.3,11.0],[-3.6,10.7],[-3.9,10.4],[-4.2,10.8],[-3.8,11.0]],
  [[-0.7,5.5],[-0.75,3.5],[-0.7,1.6],[-0.55,1.35],[-0.3,1.6]],
  [[-0.25,2.35],[-0.43,2.47],[-1.42,2.47],[-2.51,2.47],[-3.6,2.23],[-4.32,1.87],[-5.04,1.15],[-5.58,0.55],[-6.13,-0.05],[-6.67,-0.41],[-7.3,-0.47],[-7.57,-0.17],[-7.76,0.55],[-7.85,1.75],[-7.94,2.95],[-8.03,3.84],[-7.85,4.74],[-7.5,5.6]],
  [[-1.96,-0.35],[-1.78,-1.25],[-1.51,-1.84],[-1.33,-2.44],[-1.42,-3.04],[-1.24,-2.74],[-1.06,-1.84],[-1.24,-1.13],[-1.42,-0.65],[-1.3,0.0]],
  [[-7.4,8.8],[-7.0,8.4],[-6.3,7.6],[-5.4,6.7],[-4.6,5.6],[-3.6,4.4],[-2.6,3.3],[-1.8,2.4],[-1.0,1.2],[-0.5,0.2]],
  [[-6.5,8.8],[-6.0,8.0],[-5.3,7.0],[-4.6,5.7],[-3.9,4.6],[-3.0,3.6],[-2.0,2.6]],
  [[-8.2,4.6],[-7.8,4.5],[-7.3,4.45],[-6.8,4.6],[-6.3,4.3]],
  [[-4.2,8.1],[-4.0,8.3],[-3.0,8.3],[-2.3,8.0],[-1.8,7.2],[-1.5,6.0],[-1.4,4.7],[-1.6,3.6],[-2.3,3.0]],
  [[-8.9,9.8],[-8.6,9.9],[-8.0,9.8],[-7.6,9.8],[-8.2,9.6]],
  [[-9.0,8.8],[-8.5,7.5],[-8.0,6.2],[-7.5,5.0],[-7.2,4.6],[-6.8,4.4]],
  [[-9.3,3.8],[-8.9,3.5],[-8.5,3.6],[-8.0,4.0]],
  [[-3.7,8.7],[-2.9,8.9],[-2.2,8.6],[-1.6,7.9],[-1.1,6.8],[-0.9,5.5]],
  [[-6.9,4.9],[-7.0,3.0],[-6.8,1.5],[-6.3,0.5],[-5.6,-0.2]]
];
var dDlo = [
  [[-6.45,10.8],[-6.31,11.16],[-5.86,11.45],[-4.68,11.85],[-4.05,12.03],[-3.33,12.17],[-2.42,12.2],[-2.05,12.09],[-1.69,11.85],[-1.24,11.27],[-0.88,10.41],[-0.61,9.66],[-0.34,8.96],[-0.06,8.38],[0.3,7.8],[0.66,6.93],[0.93,6.06],[1.11,5.2],[1.2,4.56],[1.11,3.54],[1.2,2.35],[1.2,1.39],[1.02,1.03],[0.39,0.67],[-0.5,0.3],[-1.42,-0.05],[-2.33,-0.41],[-2.96,-0.77],[-3.32,-1.54],[-3.32,-2.14],[-3.14,-2.92],[-3.14,-3.4],[-2.95,-3.2]],
  [[-6.45,10.81],[-6.4,9.54],[-6.13,8.38],[-5.95,7.22],[-5.49,6.35],[-4.95,6.06],[-4.23,5.78],[-4.0,5.3]],
  [[-4.3,11.7],[-3.68,12.03],[-3.4,12.43],[-3.6,12.66],[-3.45,12.75],[-3.4,12.5]],
  [[-8.93,11.21],[-8.97,10.81],[-9.2,10.58],[-8.93,10.52],[-8.84,10.12],[-8.75,9.54],[-8.48,8.96],[-8.3,8.38],[-8.03,7.8],[-7.85,7.22],[-7.67,6.41],[-7.6,5.5]],
  [[-9.1,10.9],[-8.8,11.0],[-8.7,11.2],[-8.9,11.3],[-9.2,10.4],[-9.0,10.2]],
  [[-8.6,8.5],[-8.2,7.5],[-7.8,6.5],[-7.4,5.6],[-7.2,5.0]],
  [[-8.4,8.3],[-8.1,7.3],[-7.7,6.2],[-7.5,5.4]],
  [[-9.11,3.19],[-8.66,3.37],[-8.12,3.66],[-7.4,3.84],[-6.85,3.84],[-6.31,3.78]],
  [[-6.13,4.14],[-5.4,4.23],[-4.86,4.02],[-4.5,3.54],[-4.14,2.95],[-3.96,2.59],[-3.23,2.47],[-2.33,2.53],[-1.42,2.53],[-0.52,2.47],[-0.3,2.3]],
  [[-6.13,0.31],[-5.95,1.15],[-6.04,2.05],[-5.77,2.95],[-5.58,3.54]],
  [[-4.05,6.64],[-3.33,6.99],[-2.6,7.34],[-1.96,7.45],[-1.33,7.34],[-0.79,7.1],[-0.52,6.64],[-0.34,6.06],[-0.3,4.5],[-0.5,3.0],[-0.6,2.0],[-0.4,1.2],[-0.2,1.0]],
  [[-3.6,9.1],[-2.6,9.15],[-2.1,9.1],[-1.5,8.8],[-1.0,8.2],[-0.7,7.5]],
  [[-5.5,6.7],[-5.0,6.5],[-4.3,6.3],[-3.7,5.6],[-3.3,5.0],[-2.6,4.0],[-2.0,3.0],[-1.6,2.0],[-1.5,1.3]],
  [[-4.3,5.8],[-4.2,5.3],[-4.05,4.9],[-4.2,4.5],[-4.0,4.1],[-4.1,3.6]],
  [[-7.6,6.5],[-7.0,5.5],[-6.5,4.8],[-5.8,4.4]],
  [[-6.13,0.31],[-5.8,0.2],[-5.2,0.3],[-4.4,0.9],[-3.9,1.7],[-3.6,2.2]],
  [[-3.3,2.6],[-3.7,1.6],[-4.0,0.8],[-4.1,0.0],[-4.0,-0.6]],
  [[-0.5,0.0],[-0.1,-0.3],[0.2,-0.1],[0.0,0.1]],
  [[-3.8,8.6],[-3.5,8.8],[-3.3,8.6],[-3.6,8.4]],
  [[-7.5,8.3],[-7.8,8.0],[-7.5,7.6],[-7.2,7.8],[-6.8,7.5]]
];

// ---------- drawing ----------
var svg = d3.select("#fig");
svg.append("rect").attr("width", 2949).attr("height", 3422).attr("fill", "#fff");
var defs = svg.append("defs");

var serif = "'Liberation Serif', 'DejaVu Serif', serif";
var sans = "'Open Sans', 'Noto Sans', sans-serif";

function fmtNum(d) {
  return (d < 0 ? "\u2212" : "") + Math.abs(d);
}
function fmtOne(d) {
  return (d < 0 ? "\u2212" : "") + Math.abs(d).toFixed(1);
}

function drawPanel(p) {
  var x = d3.scaleLinear().domain(p.xDomain).range([p.left, p.right]);
  var y = d3.scaleLinear().domain(p.yDomain).range([p.bottom, p.top]);
  var g = svg.append("g");

  defs.append("clipPath").attr("id", "clip-" + p.id)
    .append("rect").attr("x", p.left).attr("y", p.top)
    .attr("width", p.right - p.left).attr("height", p.bottom - p.top);

  // grid
  g.selectAll(".gx").data(p.xTicks).enter().append("line")
    .attr("x1", function(d) { return x(d); }).attr("x2", function(d) { return x(d); })
    .attr("y1", p.top).attr("y2", p.bottom)
    .attr("stroke", "#9a9a9a").attr("stroke-width", 2).attr("stroke-dasharray", "9,6");
  g.selectAll(".gy").data(p.yTicks).enter().append("line")
    .attr("y1", function(d) { return y(d); }).attr("y2", function(d) { return y(d); })
    .attr("x1", p.left).attr("x2", p.right)
    .attr("stroke", "#9a9a9a").attr("stroke-width", 2).attr("stroke-dasharray", "9,6");

  // trajectories
  var line = d3.line()
    .x(function(d) { return x(d[0]); })
    .y(function(d) { return y(d[1]); })
    .curve(p.smooth ? d3.curveCatmullRom.alpha(0.5) : d3.curveLinear);

  var plot = g.append("g").attr("clip-path", "url(#clip-" + p.id + ")");
  p.series.forEach(function(s) {
    plot.append("g").selectAll("path").data(s.data).enter().append("path")
      .attr("d", line)
      .attr("fill", "none")
      .attr("stroke", s.color)
      .attr("stroke-width", s.width)
      .attr("stroke-linejoin", "round")
      .attr("stroke-linecap", "round");
  });

  // frame
  g.append("rect").attr("x", p.left).attr("y", p.top)
    .attr("width", p.right - p.left).attr("height", p.bottom - p.top)
    .attr("fill", "none").attr("stroke", "#2a2a2a").attr("stroke-width", 3);

  // axes
  var xa = g.append("g").attr("transform", "translate(0," + p.bottom + ")")
    .call(d3.axisBottom(x).tickValues(p.xTicks).tickSize(8).tickPadding(14).tickFormat(p.xFmt));
  var ya = g.append("g").attr("transform", "translate(" + p.left + ",0)")
    .call(d3.axisLeft(y).tickValues(p.yTicks).tickSize(8).tickPadding(12).tickFormat(p.yFmt));
  [xa, ya].forEach(function(a) {
    a.select(".domain").remove();
    a.selectAll(".tick line").attr("stroke", "#2a2a2a").attr("stroke-width", 2.5);
    a.selectAll(".tick text").attr("font-family", serif).attr("font-size", p.tickSize).attr("fill", "#222");
  });

  // axis labels
  g.append("text").attr("x", (p.left + p.right) / 2).attr("y", p.xLabelY)
    .attr("text-anchor", "middle").attr("font-family", sans).attr("font-size", p.labelSize)
    .attr("fill", "#111").text("x [m]");
  g.append("text")
    .attr("transform", "translate(" + p.yLabelX + "," + ((p.top + p.bottom) / 2) + ") rotate(-90)")
    .attr("text-anchor", "middle").attr("font-family", sans).attr("font-size", p.labelSize)
    .attr("fill", "#111").text("y [m]");

  // legend
  var L = p.legend;
  var lg = g.append("g");
  lg.append("rect").attr("x", L.x0).attr("y", L.y0)
    .attr("width", L.x1 - L.x0).attr("height", L.y1 - L.y0)
    .attr("rx", 8).attr("fill", "#fff").attr("stroke", "#222").attr("stroke-width", 3);
  var rows = lg.selectAll(".row").data(p.legendItems).enter().append("g")
    .attr("transform", function(d, i) { return "translate(0," + L.rows[i] + ")"; });
  rows.append("line").attr("x1", L.lx0).attr("x2", L.lx1).attr("y1", 0).attr("y2", 0)
    .attr("stroke", function(d) { return d.color; })
    .attr("stroke-width", function(d) { return d.lw; });
  rows.append("text").attr("x", L.tx).attr("y", 0).attr("dy", "0.32em")
    .attr("font-family", sans).attr("font-size", L.font).attr("fill", "#111")
    .text(function(d) { return d.name; });

  // caption
  var cap = svg.append("text").attr("x", p.capX).attr("y", p.capY)
    .attr("text-anchor", "middle").attr("font-family", serif).attr("font-size", 68).attr("fill", "#111");
  cap.append("tspan").text("(");
  cap.append("tspan").attr("font-weight", "bold").text(p.id);
  cap.append("tspan").text(")");
}

// panel (a)
var aColors = ["rgba(255,0,0,0.6)", "rgba(0,0,0,0.75)", "rgba(0,0,255,0.5)", "rgba(191,0,191,0.72)"];
var aLegendColors = ["rgba(255,0,0,0.6)", "rgba(0,0,0,0.7)", "rgba(0,0,255,0.5)", "rgba(191,0,191,0.5)"];
var aData = [aAloam, aCompslam, aOurs, aGt];
drawPanel({
  id: "a", left: 175, right: 1585, top: 55, bottom: 1397,
  xDomain: [-5.4, 58.1], yDomain: [-2.75, 57.6],
  xTicks: aXTicks, yTicks: aYTicks, xFmt: fmtNum, yFmt: fmtNum,
  tickSize: 35, labelSize: 50, xLabelY: 1513, yLabelX: 85, smooth: false,
  series: aNames.map(function(n, i) { return { name: n, color: aColors[i], width: 3.2, data: aData[i] }; }),
  legendItems: aNames.map(function(n, i) { return { name: n, color: aLegendColors[i], lw: 4 }; }),
  legend: { x0: 177, x1: 609, y0: 55, y1: 378, rows: [98, 175, 253, 330], lx0: 199, lx1: 317, tx: 356, font: 48 },
  capX: 814, capY: 1648
});

// panel (b)
var bColors = ["rgba(255,0,0,0.8)", "rgba(0,0,0,0.85)", "rgba(0,0,255,0.45)", "rgba(191,0,191,0.8)"];
var bWidths = [2.5, 2, 5, 2.5];
var bData = [bCompslam, bDlo, bOurs, bGt];
drawPanel({
  id: "b", left: 1945, right: 2755, top: 59, bottom: 1397,
  xDomain: [-6.1, 57.5], yDomain: [-32.8, 72.5],
  xTicks: bXTicks, yTicks: bYTicks, xFmt: fmtNum, yFmt: fmtNum,
  tickSize: 33, labelSize: 48, xLabelY: 1508, yLabelX: 1830, smooth: false,
  series: bNames.map(function(n, i) { return { name: n, color: bColors[i], width: bWidths[i], data: bData[i] }; }),
  legendItems: bNames.map(function(n, i) { return { name: n, color: bColors[i], lw: i === 2 ? 6 : 3 }; }),
  legend: { x0: 1947, x1: 2357, y0: 1089, y1: 1397, rows: [1133, 1207, 1279, 1353], lx0: 1969, lx1: 2076, tx: 2115, font: 46 },
  capX: 2277, capY: 1648
});

// panel (c)
var cColors = ["rgba(255,0,0,0.9)", "rgba(30,30,30,0.8)", "rgba(0,0,255,0.85)", "rgba(128,30,220,0.85)", "rgba(80,80,200,0.8)", "rgba(200,40,200,0.8)"];
var cWidths = [2.5, 2.5, 2, 3.5, 3, 3.2];
var cData = [cAloam, cVoxelmap, cDlo, cFastlio2, cOurs, cGt];
var cLegendColors = ["#ff2020", "#4a4a4a", "#6c6cf6", "#8a34d8", "#7272c4", "#d566d5"];
drawPanel({
  id: "c", left: 351, right: 1390, top: 1705, bottom: 3137,
  xDomain: [-11.44, 23.84], yDomain: [-2.37, 46.2],
  xTicks: cXTicks, yTicks: cYTicks, xFmt: fmtNum, yFmt: fmtNum,
  tickSize: 34, labelSize: 34, xLabelY: 3237, yLabelX: 262, smooth: true,
  series: cNames.map(function(n, i) { return { name: n, color: cColors[i], width: cWidths[i], data: cData[i] }; }),
  legendItems: cNames.map(function(n, i) { return { name: n, color: cLegendColors[i], lw: 4 }; }),
  legend: { x0: 351, x1: 661, y0: 2779, y1: 3137, rows: [2814, 2870, 2927, 2984, 3041, 3097], lx0: 369, lx1: 452, tx: 484, font: 36 },
  capX: 814, capY: 3362
});

// panel (d)
var dColors = ["rgba(230,20,20,0.85)", "rgba(20,20,20,0.85)", "rgba(50,40,230,0.85)", "rgba(130,50,240,0.85)", "rgba(140,30,200,0.75)"];
var dWidths = [2.2, 2.2, 3, 3, 2.4];
var dData = [dAloam, dDlo, dFastlio2, dOurs, dGt];
var dLegendColors = ["#c8384a", "#505050", "#3c3cd8", "#8a50e6", "#9a3a8c"];
drawPanel({
  id: "d", left: 1796, right: 2901, top: 1705, bottom: 3132,
  xDomain: [-10.34, 3.63], yDomain: [-4.53, 13.51],
  xTicks: dXTicks, yTicks: dYTicks, xFmt: fmtNum, yFmt: fmtOne,
  tickSize: 31, labelSize: 34, xLabelY: 3234, yLabelX: 1672, smooth: true,
  series: dNames.map(function(n, i) { return { name: n, color: dColors[i], width: dWidths[i], data: dData[i] }; }),
  legendItems: dNames.map(function(n, i) { return { name: n, color: dLegendColors[i], lw: 3.5 }; }),
  legend: { x0: 1796, x1: 2069, y0: 2831, y1: 3132, rows: [2868, 2925, 2982, 3036, 3095], lx0: 1810, lx1: 1897, tx: 1927, font: 36 },
  capX: 2277, capY: 3362
});
</script>
</body>
</html>
